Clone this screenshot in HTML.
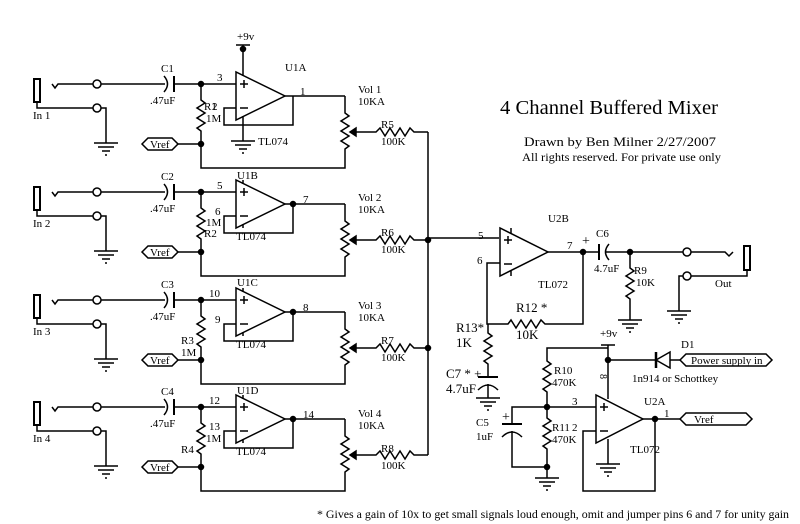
<!DOCTYPE html>
<html><head><meta charset="utf-8"><style>
html,body{margin:0;padding:0;background:#fff;width:800px;height:524px;overflow:hidden}
svg text{font-family:"Liberation Serif",serif;fill:#000}
</style></head><body>
<svg width="800" height="524" viewBox="0 0 800 524" xmlns="http://www.w3.org/2000/svg">
<defs>
<g id="gnd" stroke="#000" stroke-width="1.5" fill="none">
<line x1="-12" y1="0" x2="12" y2="0"/><line x1="-8" y1="4" x2="8" y2="4"/><line x1="-4" y1="8" x2="4" y2="8"/><line x1="-1" y1="12" x2="1" y2="12"/>
</g>
<g id="ch" stroke="#000" stroke-width="1.5" fill="none">
<rect x="34" y="79" width="6" height="23" stroke-width="2"/>
<polyline points="52,84 55,88 58,84 93,84"/>
<circle cx="97" cy="84" r="4" fill="#fff"/>
<line x1="101" y1="84" x2="165" y2="84"/>
<path d="M164,76 Q171,84 164,92"/>
<line x1="174" y1="76" x2="174" y2="92" stroke-width="2"/>
<line x1="174" y1="84" x2="236" y2="84"/>
<polyline points="37,102 37,108 93,108"/>
<circle cx="97" cy="108" r="4" fill="#fff"/>
<polyline points="101,108 106,108 106,143"/>
<use href="#gnd" x="106" y="143"/>
<polyline points="201,84 201,100 205,103 197,108 205,113 197,118 205,123 197,128 201,131 201,168 345,168 345,150"/>
<line x1="178" y1="144" x2="201" y2="144"/>
<polygon points="236,72 236,120 285,96" fill="#fff"/>
<line x1="240" y1="84" x2="248" y2="84"/><line x1="244" y1="80" x2="244" y2="88"/>
<line x1="240" y1="108" x2="248" y2="108"/>
<polyline points="236,108 224,108 224,125 293,125 293,96"/>
<line x1="285" y1="96" x2="345" y2="96"/>
<polyline points="345,96 345,113 349,116 341,121 349,126 341,131 349,136 341,141 349,146 345,149 345,150"/>
<polyline points="350,132 376,132 380,128 385,136 390,128 395,136 400,128 405,136 410,128 414,132 428,132"/>
<polygon points="350,132 356,128 356,136" fill="#000"/>
<circle cx="201" cy="84" r="2.5" fill="#000"/>
<circle cx="201" cy="144" r="2.5" fill="#000"/>
<polygon points="142,144 148,138 172,138 178,144 172,150 148,150" fill="#fff"/>
</g>
</defs>
<g font-size="12">
<use href="#ch" y="0"/><use href="#ch" y="108"/><use href="#ch" y="216"/><use href="#ch" y="323"/>
</g>
<g stroke="#000" stroke-width="1.5" fill="none">
<line x1="243" y1="45" x2="243" y2="76"/><line x1="236" y1="45" x2="250" y2="45"/>
<line x1="243" y1="116" x2="243" y2="141"/><use href="#gnd" x="243" y="141"/>
<circle cx="243" cy="49" r="2.5" fill="#000"/>
<line x1="243" y1="180" x2="243" y2="184"/><line x1="243" y1="224" x2="243" y2="228"/>
<line x1="243" y1="288" x2="243" y2="292"/><line x1="243" y1="332" x2="243" y2="336"/>
<line x1="243" y1="395" x2="243" y2="399"/><line x1="243" y1="439" x2="243" y2="443"/>
<circle cx="293" cy="204" r="2.5" fill="#000"/><circle cx="293" cy="312" r="2.5" fill="#000"/><circle cx="293" cy="419" r="2.5" fill="#000"/>
<line x1="428" y1="132" x2="428" y2="455"/>
<line x1="428" y1="238" x2="499" y2="238"/>
<circle cx="428" cy="240" r="2.5" fill="#000"/><circle cx="428" cy="348" r="2.5" fill="#000"/>
<polygon points="500,228 500,276 548,252" fill="#fff"/>
<line x1="504" y1="240" x2="512" y2="240"/><line x1="508" y1="236" x2="508" y2="244"/>
<line x1="504" y1="264" x2="512" y2="264"/>
<line x1="511" y1="228" x2="511" y2="233"/><line x1="511" y1="271" x2="511" y2="276"/>
<polyline points="500,263 487,263 487,324 508,324 511,320 516,328 521,320 526,328 531,320 536,328 541,320 545,324 583,324 583,252"/>
<line x1="548" y1="252" x2="598" y2="252"/>
<line x1="599" y1="244" x2="599" y2="260" stroke-width="2"/>
<path d="M609,244 Q602,252 609,260"/>
<line x1="606" y1="252" x2="683" y2="252"/>
<circle cx="583" cy="252" r="2.5" fill="#000"/><circle cx="630" cy="252" r="2.5" fill="#000"/>
<polyline points="630,252 630,268 634,271 626,276 634,281 626,286 634,291 626,296 630,299 630,320"/>
<use href="#gnd" x="630" y="320"/>
<circle cx="687" cy="252" r="4" fill="#fff"/>
<polyline points="691,252 725,252 729,256 733,252"/>
<rect x="744" y="246" width="6" height="24" stroke-width="2"/>
<polyline points="747,270 747,276 691,276"/>
<circle cx="687" cy="276" r="4" fill="#fff"/>
<polyline points="683,276 679,276 679,311"/><use href="#gnd" x="679" y="311"/>
<polyline points="488,324 488,333 492,336 484,341 492,346 484,351 492,356 484,361 488,364 488,377"/>
<line x1="478" y1="377" x2="498" y2="377" stroke-width="2"/>
<path d="M478,390 Q488,380 498,390"/>
<line x1="488" y1="384" x2="488" y2="398"/><use href="#gnd" x="488" y="398"/>
<polygon points="596,395 596,443 643,419" fill="#fff"/>
<line x1="600" y1="407" x2="608" y2="407"/><line x1="604" y1="403" x2="604" y2="411"/>
<line x1="600" y1="431" x2="608" y2="431"/>
<line x1="608" y1="345" x2="608" y2="399"/><line x1="601" y1="345" x2="615" y2="345"/>
<line x1="608" y1="439" x2="608" y2="464"/><use href="#gnd" x="608" y="464"/>
<circle cx="608" cy="360" r="2.5" fill="#000"/>
<line x1="608" y1="360" x2="656" y2="360"/>
<line x1="656" y1="352" x2="656" y2="368" stroke-width="2.5"/>
<polygon points="656,360 670,352 670,368" fill="#fff"/>
<line x1="670" y1="360" x2="680" y2="360"/>
<polygon points="680,360 686,354 766,354 772,360 766,366 686,366" fill="#fff"/>
<polyline points="608,348 547,348 547,361 551,364 543,369 551,374 543,379 551,384 543,389 547,392 547,407"/>
<polyline points="547,407 547,418 551,421 543,426 551,431 543,436 551,441 543,446 547,449 547,478"/>
<use href="#gnd" x="547" y="478"/>
<circle cx="547" cy="407" r="2.5" fill="#000"/><circle cx="547" cy="467" r="2.5" fill="#000"/>
<line x1="547" y1="407" x2="596" y2="407"/>
<polyline points="547,407 512,407 512,424"/>
<line x1="502" y1="424" x2="522" y2="424" stroke-width="2"/>
<path d="M502,437 Q512,427 522,437"/>
<polyline points="512,431 512,467 547,467"/>
<polyline points="643,419 680,419"/>
<circle cx="655" cy="419" r="2.5" fill="#000"/>
<polyline points="655,419 655,491 583,491 583,431 596,431"/>
<polygon points="680,419 686,413 746,413 752,419 746,425 686,425" fill="#fff"/>
</g>
<g font-size="11">
<text x="237" y="40">+9v</text>
<text x="285" y="71">U1A</text>
<text x="161" y="72">C1</text><text x="150" y="104">.47uF</text>
<text x="217" y="81">3</text><text x="204" y="110">R1</text><text x="212" y="110">2</text><text x="206" y="122">1M</text>
<text x="300" y="95">1</text><text x="258" y="145">TL074</text>
<text x="358" y="93">Vol 1</text><text x="358" y="105">10KA</text>
<text x="381" y="128">R5</text><text x="381" y="145">100K</text>
<text x="33" y="119">In 1</text><text x="150" y="148">Vref</text>

<text x="237" y="179">U1B</text>
<text x="161" y="180">C2</text><text x="150" y="212">.47uF</text>
<text x="217" y="189">5</text><text x="215" y="215">6</text><text x="206" y="226">1M</text><text x="204" y="237">R2</text>
<text x="303" y="203">7</text><text x="236" y="240">TL074</text>
<text x="358" y="201">Vol 2</text><text x="358" y="213">10KA</text>
<text x="381" y="236">R6</text><text x="381" y="253">100K</text>
<text x="33" y="227">In 2</text><text x="150" y="256">Vref</text>

<text x="237" y="286">U1C</text>
<text x="161" y="288">C3</text><text x="150" y="320">.47uF</text>
<text x="209" y="297">10</text><text x="215" y="323">9</text><text x="181" y="344">R3</text><text x="181" y="356">1M</text>
<text x="303" y="311">8</text><text x="236" y="348">TL074</text>
<text x="358" y="309">Vol 3</text><text x="358" y="321">10KA</text>
<text x="381" y="344">R7</text><text x="381" y="361">100K</text>
<text x="33" y="335">In 3</text><text x="150" y="364">Vref</text>

<text x="237" y="394">U1D</text>
<text x="161" y="395">C4</text><text x="150" y="427">.47uF</text>
<text x="209" y="404">12</text><text x="209" y="430">13</text><text x="206" y="442">1M</text><text x="181" y="453">R4</text>
<text x="303" y="418">14</text><text x="236" y="455">TL074</text>
<text x="358" y="417">Vol 4</text><text x="358" y="429">10KA</text>
<text x="381" y="452">R8</text><text x="381" y="469">100K</text>
<text x="33" y="442">In 4</text><text x="150" y="471">Vref</text>

<text x="548" y="222">U2B</text>
<text x="478" y="239">5</text><text x="477" y="264">6</text><text x="567" y="249">7</text>
<text x="582" y="245" font-size="14">+</text>
<text x="596" y="237">C6</text><text x="594" y="272">4.7uF</text>
<text x="634" y="274">R9</text><text x="636" y="286">10K</text>
<text x="538" y="288">TL072</text><text x="715" y="287">Out</text>
<text x="516" y="312" font-size="13">R12 *</text><text x="516" y="339" font-size="13">10K</text>
<text x="456" y="332" font-size="13">R13*</text><text x="456" y="347" font-size="13">1K</text>
<text x="446" y="378" font-size="13">C7 * +</text><text x="446" y="393" font-size="13">4.7uF</text>
<text x="600" y="337">+9v</text>
<text x="681" y="348">D1</text><text x="691" y="364">Power supply in</text>
<text x="632" y="382">1n914 or Schottkey</text>
<text x="554" y="374">R10</text><text x="552" y="386">470K</text>
<text x="572" y="405">3</text><text x="552" y="431">R11</text><text x="572" y="431">2</text><text x="552" y="443">470K</text>
<text x="476" y="426">C5</text><text x="476" y="440">1uF</text>
<text x="502" y="421" font-size="14">+</text>
<text x="644" y="405">U2A</text><text x="664" y="417">1</text>
<text x="630" y="453">TL072</text><text x="694" y="423">Vref</text>
<text x="599" y="381" font-size="10" transform="rotate(90 603 378)">8</text>
</g>
<text x="500" y="114" font-size="20" textLength="218" lengthAdjust="spacingAndGlyphs">4 Channel Buffered Mixer</text>
<text x="524" y="146" font-size="13" textLength="192" lengthAdjust="spacingAndGlyphs">Drawn by Ben Milner 2/27/2007</text>
<text x="522" y="161" font-size="12" textLength="199" lengthAdjust="spacingAndGlyphs">All rights reserved.  For private use only</text>
<text x="317" y="518" font-size="12" textLength="472" lengthAdjust="spacingAndGlyphs">* Gives a gain of 10x to get small signals loud enough, omit and jumper pins 6 and 7 for unity gain</text>
</svg>
</body></html>
